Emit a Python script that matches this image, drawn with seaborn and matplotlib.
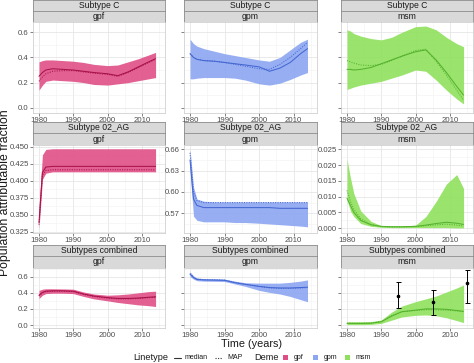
import numpy as np
import pandas as pd
import matplotlib
matplotlib.use("Agg")
import matplotlib.pyplot as plt
from matplotlib.lines import Line2D
from matplotlib.patches import Rectangle
from matplotlib.ticker import MultipleLocator
import seaborn as sns

# ---------------- data ----------------
YEARS = [1980, 1981, 1982, 1984, 1987, 1990, 1993, 1996, 2000, 2003, 2006, 2009, 2012, 2014]

ROW_TITLES = ["Subtype C", "Subtype 02_AG", "Subtypes combined"]
DEMES = ["gpf", "gpm", "msm"]

# Subtype C
C_GPF_HI = [0.365, 0.375, 0.38, 0.38, 0.375, 0.37, 0.36, 0.345, 0.335, 0.34, 0.365, 0.39, 0.42, 0.44]
C_GPF_LO = [0.14, 0.18, 0.21, 0.22, 0.215, 0.21, 0.20, 0.185, 0.18, 0.19, 0.20, 0.215, 0.23, 0.24]
C_GPF_MED = [0.25, 0.28, 0.30, 0.31, 0.305, 0.30, 0.29, 0.28, 0.27, 0.255, 0.285, 0.325, 0.365, 0.39]
C_GPF_MAP = [0.21, 0.245, 0.27, 0.29, 0.295, 0.295, 0.285, 0.275, 0.265, 0.25, 0.28, 0.32, 0.36, 0.385]

C_GPM_HI = [0.545, 0.51, 0.49, 0.47, 0.45, 0.43, 0.415, 0.40, 0.38, 0.37, 0.40, 0.46, 0.52, 0.545]
C_GPM_LO = [0.23, 0.23, 0.235, 0.24, 0.24, 0.24, 0.235, 0.22, 0.19, 0.18, 0.195, 0.225, 0.26, 0.28]
C_GPM_MED = [0.43, 0.40, 0.385, 0.375, 0.37, 0.36, 0.35, 0.34, 0.325, 0.29, 0.315, 0.36, 0.43, 0.47]
C_GPM_MAP = [0.43, 0.40, 0.385, 0.375, 0.37, 0.36, 0.345, 0.33, 0.31, 0.305, 0.345, 0.40, 0.47, 0.52]

C_MSM_HI = [0.62, 0.61, 0.59, 0.57, 0.55, 0.54, 0.56, 0.60, 0.645, 0.65, 0.62, 0.56, 0.51, 0.485]
C_MSM_LO = [0.145, 0.155, 0.165, 0.18, 0.195, 0.21, 0.235, 0.26, 0.30, 0.29, 0.22, 0.14, 0.07, 0.03]
C_MSM_MED = [0.305, 0.305, 0.30, 0.305, 0.32, 0.35, 0.38, 0.41, 0.445, 0.46, 0.38, 0.28, 0.17, 0.10]
C_MSM_MAP = [0.375, 0.365, 0.355, 0.34, 0.335, 0.345, 0.375, 0.41, 0.455, 0.465, 0.37, 0.26, 0.14, 0.06]

# Subtype 02_AG
AG_GPF_HI = [0.360, 0.438, 0.446, 0.447, 0.447, 0.447, 0.447, 0.447, 0.447, 0.447, 0.447, 0.447, 0.447, 0.447]
AG_GPF_LO = [0.329, 0.402, 0.411, 0.413, 0.413, 0.413, 0.413, 0.413, 0.413, 0.413, 0.413, 0.413, 0.413, 0.413]
AG_GPF_MED = [0.338, 0.412, 0.420, 0.421, 0.421, 0.421, 0.421, 0.421, 0.421, 0.421, 0.421, 0.421, 0.421, 0.421]
AG_GPF_MAP = [0.335, 0.408, 0.415, 0.416, 0.416, 0.416, 0.416, 0.416, 0.416, 0.416, 0.416, 0.416, 0.416, 0.416]

AG_GPM_HI = [0.660, 0.607, 0.590, 0.587, 0.586, 0.586, 0.586, 0.586, 0.586, 0.586, 0.586, 0.586, 0.586, 0.586]
AG_GPM_LO = [0.630, 0.566, 0.560, 0.558, 0.558, 0.558, 0.557, 0.557, 0.556, 0.555, 0.554, 0.553, 0.552, 0.551]
AG_GPM_MED = [0.645, 0.590, 0.581, 0.578, 0.578, 0.578, 0.578, 0.578, 0.578, 0.578, 0.577, 0.577, 0.577, 0.577]
AG_GPM_MAP = [0.655, 0.600, 0.588, 0.585, 0.585, 0.585, 0.585, 0.585, 0.585, 0.585, 0.585, 0.585, 0.585, 0.585]

AG_MSM_HI = [0.0218, 0.016, 0.011, 0.0055, 0.0022, 0.0008, 0.0006, 0.0006, 0.001, 0.0037, 0.0085, 0.0140, 0.0170, 0.0126]
AG_MSM_LO = [0.009, 0.0055, 0.0037, 0.0015, 0.0006, 0.0003, 0.0002, 0.0002, 0.0002, 0.0002, 0.0002, 0.0002, 0.0001, 0.0001]
AG_MSM_MED = [0.0095, 0.0072, 0.005, 0.0025, 0.0011, 0.0006, 0.0005, 0.0005, 0.0006, 0.0010, 0.0015, 0.0019, 0.0016, 0.0012]
AG_MSM_MAP = [0.012, 0.0085, 0.006, 0.003, 0.0012, 0.0005, 0.0004, 0.0004, 0.0005, 0.0008, 0.0011, 0.0013, 0.0010, 0.0007]

# Subtypes combined
ALL_GPF_HI = [0.43, 0.445, 0.45, 0.45, 0.448, 0.445, 0.41, 0.385, 0.37, 0.375, 0.385, 0.40, 0.415, 0.42]
ALL_GPF_LO = [0.33, 0.37, 0.39, 0.395, 0.395, 0.39, 0.355, 0.325, 0.30, 0.28, 0.265, 0.25, 0.24, 0.23]
ALL_GPF_MED = [0.37, 0.405, 0.42, 0.425, 0.425, 0.42, 0.385, 0.36, 0.34, 0.33, 0.33, 0.335, 0.345, 0.35]
ALL_GPF_MAP = [0.36, 0.40, 0.415, 0.42, 0.42, 0.415, 0.38, 0.355, 0.335, 0.325, 0.325, 0.33, 0.34, 0.345]

ALL_GPM_HI = [0.66, 0.61, 0.585, 0.575, 0.573, 0.57, 0.545, 0.525, 0.52, 0.52, 0.52, 0.53, 0.545, 0.56]
ALL_GPM_LO = [0.60, 0.57, 0.55, 0.545, 0.543, 0.54, 0.51, 0.48, 0.43, 0.405, 0.385, 0.355, 0.315, 0.29]
ALL_GPM_MED = [0.63, 0.59, 0.565, 0.56, 0.558, 0.555, 0.525, 0.505, 0.48, 0.465, 0.46, 0.46, 0.465, 0.47]
ALL_GPM_MAP = [0.64, 0.595, 0.57, 0.562, 0.56, 0.557, 0.528, 0.505, 0.478, 0.462, 0.455, 0.455, 0.46, 0.465]

ALL_MSM_HI = [0.041, 0.04, 0.04, 0.04, 0.042, 0.062, 0.16, 0.235, 0.29, 0.325, 0.36, 0.41, 0.46, 0.497]
ALL_MSM_LO = [0.005, 0.005, 0.005, 0.005, 0.008, 0.02, 0.06, 0.10, 0.12, 0.125, 0.115, 0.09, 0.055, 0.03]
ALL_MSM_MED = [0.02, 0.02, 0.02, 0.02, 0.022, 0.04, 0.11, 0.165, 0.185, 0.20, 0.20, 0.195, 0.18, 0.17]
ALL_MSM_MAP = [0.022, 0.022, 0.022, 0.022, 0.025, 0.045, 0.115, 0.165, 0.18, 0.19, 0.19, 0.185, 0.175, 0.165]

# observed estimates (error bars) in combined msm panel
OBS_YEARS = [1995, 2005, 2015]
OBS_MID = [0.36, 0.29, 0.526]
OBS_LO = [0.207, 0.124, 0.277]
OBS_HI = [0.538, 0.435, 0.683]

X_TICKS = [1980, 1990, 2000, 2010]

# ---------------- style ----------------
sns.set_theme(style="white")
plt.rcParams["font.family"] = ["Liberation Sans", "DejaVu Sans"]

FILL = {"gpf": "#DF4F86", "gpm": "#8CA6F1", "msm": "#8FE15D"}
LINE = {"gpf": "#A8124A", "gpm": "#4466D2", "msm": "#55B22E"}

W, H = 474, 363
fig = plt.figure(figsize=(W / 100, H / 100), dpi=100)


def rect(x0, x1, y0, y1):
    return [x0 / W, 1 - y1 / H, (x1 - x0) / W, (y1 - y0) / H]


COLS = [(33, 165), (184, 317), (341, 473)]
ROWS = [
    ((0, 10.5), (11, 21.5), (22, 113)),
    ((122, 133), (133.5, 145), (145, 233)),
    ((245, 255.5), (256, 267.5), (268, 328)),
]

PANEL_DATA = {
    (0, "gpf"): (C_GPF_LO, C_GPF_HI, C_GPF_MED, C_GPF_MAP),
    (0, "gpm"): (C_GPM_LO, C_GPM_HI, C_GPM_MED, C_GPM_MAP),
    (0, "msm"): (C_MSM_LO, C_MSM_HI, C_MSM_MED, C_MSM_MAP),
    (1, "gpf"): (AG_GPF_LO, AG_GPF_HI, AG_GPF_MED, AG_GPF_MAP),
    (1, "gpm"): (AG_GPM_LO, AG_GPM_HI, AG_GPM_MED, AG_GPM_MAP),
    (1, "msm"): (AG_MSM_LO, AG_MSM_HI, AG_MSM_MED, AG_MSM_MAP),
    (2, "gpf"): (ALL_GPF_LO, ALL_GPF_HI, ALL_GPF_MED, ALL_GPF_MAP),
    (2, "gpm"): (ALL_GPM_LO, ALL_GPM_HI, ALL_GPM_MED, ALL_GPM_MAP),
    (2, "msm"): (ALL_MSM_LO, ALL_MSM_HI, ALL_MSM_MED, ALL_MSM_MAP),
}

YLIMS = {
    0: [(-0.042, 0.682)] * 3,
    1: [(0.3228, 0.4525), (0.5423, 0.666), (-0.0015, 0.02636)],
    2: [(-0.037, 0.708)] * 3,
}
YTICKS = {
    0: [[0.0, 0.2, 0.4, 0.6]] * 3,
    1: [[0.325, 0.350, 0.375, 0.400, 0.425, 0.450], [0.57, 0.60, 0.63, 0.66],
        [0.000, 0.005, 0.010, 0.015, 0.020, 0.025]],
    2: [[0.0, 0.2, 0.4, 0.6]] * 3,
}
YFMT = {
    0: ["{:.1f}"] * 3,
    1: ["{:.3f}", "{:.2f}", "{:.3f}"],
    2: ["{:.1f}"] * 3,
}

STRIP_BG = "#D9D9D9"
STRIP_EDGE = "#8C8C8C"
FS_TICK = 5.6
FS_STRIP = 6.2


def strip(x0, x1, y0, y1, label):
    sa = fig.add_axes(rect(x0, x1, y0, y1))
    sa.set_facecolor(STRIP_BG)
    sa.set_xticks([])
    sa.set_yticks([])
    for s in sa.spines.values():
        s.set_color(STRIP_EDGE)
        s.set_linewidth(0.6)
    sa.text(0.5, 0.48, label, ha="center", va="center", fontsize=FS_STRIP,
            color="#1A1A1A", transform=sa.transAxes)


for r in range(3):
    (s1, s2, pan) = ROWS[r]
    for c, deme in enumerate(DEMES):
        x0, x1 = COLS[c]
        strip(x0, x1, s1[0], s1[1], ROW_TITLES[r])
        strip(x0, x1, s2[0], s2[1], deme)
        ax = fig.add_axes(rect(x0, x1, pan[0], pan[1]))
        ax.set_facecolor("white")
        lo, hi, med, mp = PANEL_DATA[(r, deme)]
        ax.fill_between(YEARS, lo, hi, color=FILL[deme], alpha=0.9, lw=0, zorder=2)
        df = pd.DataFrame({
            "year": YEARS * 2,
            "value": list(med) + list(mp),
            "kind": ["median"] * len(YEARS) + ["MAP"] * len(YEARS),
        })
        sns.lineplot(data=df, x="year", y="value", style="kind",
                     dashes={"median": "", "MAP": (1, 1.3)},
                     color=LINE[deme], lw=0.75, ax=ax, legend=False, zorder=3)
        if r == 2 and deme == "msm":
            mid = np.array(OBS_MID)
            yerr = [mid - np.array(OBS_LO), np.array(OBS_HI) - mid]
            ax.errorbar(OBS_YEARS, OBS_MID, yerr=yerr, fmt="o", ms=1.6,
                        color="black", ecolor="black", elinewidth=0.7,
                        capsize=1.8, capthick=0.7, zorder=4)
        ax.set_xlim(1978.25, 2016.75)
        ax.set_ylim(*YLIMS[r][c])
        ax.set_xticks(X_TICKS)
        ax.set_xticklabels([str(t) for t in X_TICKS])
        ax.xaxis.set_minor_locator(MultipleLocator(5))
        yt = YTICKS[r][c]
        ax.set_yticks(yt)
        if c == 0 or r == 1:
            ax.set_yticklabels([YFMT[r][c].format(v) for v in yt])
        else:
            ax.set_yticklabels([])
        step = yt[1] - yt[0]
        ax.yaxis.set_minor_locator(MultipleLocator(step / 2))
        ax.grid(True, which="major", color="#E6E6E6", lw=0.6, zorder=0)
        ax.grid(True, which="minor", color="#F2F2F2", lw=0.4, zorder=0)
        ax.set_axisbelow(True)
        ax.set_xlabel("")
        ax.set_ylabel("")
        ax.tick_params(axis="both", which="major", labelsize=FS_TICK,
                       labelcolor="#4D4D4D", length=2, width=0.5,
                       color="#4D4D4D", pad=1, bottom=True, left=True)
        ax.tick_params(axis="both", which="minor", length=0)
        for s in ax.spines.values():
            s.set_color("#C8C8C8")
            s.set_linewidth(0.5)

# axis titles
fig.text(252 / W, 1 - 344 / H, "Time (years)", ha="center", va="center",
         fontsize=7.8, color="#1A1A1A")
fig.text(5 / W, 1 - 193 / H, "Population attributable fraction", ha="center",
         va="center", rotation=90, fontsize=8.8, color="#1A1A1A")

# legend (drawn manually, ggplot-style with titles on the left)
lg = fig.add_axes([0, 0, 1, 1], facecolor="none")
lg.set_xlim(0, W)
lg.set_ylim(H, 0)
lg.axis("off")
ly = 357.5
lg.text(133, ly, "Linetype", ha="left", va="center", fontsize=6.6, color="#1A1A1A")
lg.add_line(Line2D([174, 181], [ly, ly], color="#333333", lw=0.8))
lg.text(185, ly, "median", ha="left", va="center", fontsize=5.0, color="#1A1A1A")
lg.add_line(Line2D([215, 222], [ly, ly], color="#333333", lw=0.8, ls=(0, (1, 1.3))))
lg.text(227, ly, "MAP", ha="left", va="center", fontsize=5.0, color="#1A1A1A")
lg.text(254, ly, "Deme", ha="left", va="center", fontsize=6.6, color="#1A1A1A")
for xx, d in [(283, "gpf"), (313, "gpm"), (345, "msm")]:
    lg.add_patch(Rectangle((xx, ly - 2.6), 5.5, 5.2, color=FILL[d], lw=0))
    lg.text(xx + 11, ly, d, ha="left", va="center", fontsize=5.0, color="#1A1A1A")

fig.savefig("out.png", dpi=100)
